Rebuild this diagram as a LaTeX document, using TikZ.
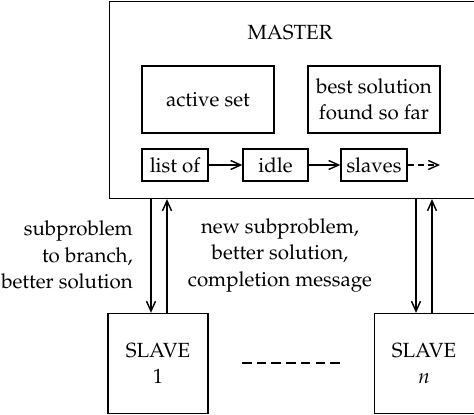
\documentclass[tikz,border=0pt]{standalone}
\usepackage[T1]{fontenc}
\usepackage{mathpazo}
\usetikzlibrary{arrows.meta}
\begin{document}
\begin{tikzpicture}[x=1pt,y=-1pt,
  every node/.style={font=\fontsize{20.5}{26.5}\selectfont, inner sep=0pt},
  bigbox/.style={draw, line width=1.3pt},
  inbox/.style={draw, line width=1.3pt, align=center},
  tipx/.tip={Straight Barb[length=10pt,width=9pt,line width=1.4pt]},
  flow/.style={line width=1.1pt, -tipx},
  msg/.style={line width=1.1pt, -tipx},
  lbl/.style={align=center}]
\useasboundingbox (0,0) rectangle (474,415);
% master
\node[bigbox, minimum width=367pt, minimum height=197pt, anchor=north west] (master) at (109,0.8) {};
\node (mtitle) at (290,33) {MASTER};
\node[inbox, minimum width=132pt, minimum height=67pt] (active) at (208,99.5) {active set};
\node[inbox, minimum width=132pt, minimum height=67pt] (best) at (374,99.5) {best solution\\found so far};
\node[inbox, minimum width=66pt, minimum height=32pt] (list) at (175,165) {list of};
\node[inbox, minimum width=65pt, minimum height=32pt] (idle) at (275.5,165) {idle};
\node[inbox, minimum width=66pt, minimum height=32pt] (slaves) at (374,165) {slaves};
\coordinate (tail) at (440,165);
\draw[flow] (list) -- (idle);
\draw[flow] (idle) -- (slaves);
\draw[flow, dash pattern=on 6pt off 4pt] (slaves) -- (tail);
% slaves
\node[bigbox, minimum width=100pt, minimum height=100pt, align=center] (s1) at (158,363.5) {SLAVE\\1};
\node[bigbox, minimum width=104pt, minimum height=100pt, anchor=west, align=center] (sn) at (374,363.5) {};
\node[align=center] (sntext) at (424,363.5) {SLAVE\\$n$};
% connectors
\coordinate (a1) at (151,0);
\coordinate (b1) at (167,0);
\coordinate (a2) at (416,0);
\coordinate (b2) at (432,0);
\draw[msg] (a1 |- master.south) -- (a1 |- s1.north);
\draw[msg] (b1 |- s1.north) -- (b1 |- master.south);
\draw[msg] (a2 |- master.south) -- (a2 |- sn.north);
\draw[msg] (b2 |- sn.north) -- (b2 |- master.south);
% labels
\node[align=right, anchor=east] (l1) at (133,255) {subproblem\\to branch,\\better solution};
\node[lbl] (l2) at (280,255) {new subproblem,\\better solution,\\completion message};
% dots
\coordinate (d1) at (242,363);
\coordinate (d2) at (340,363);
\draw[line width=1.1pt, dash pattern=on 9.5pt off 5.2pt] (d1) -- (d2);
\end{tikzpicture}
\end{document}
